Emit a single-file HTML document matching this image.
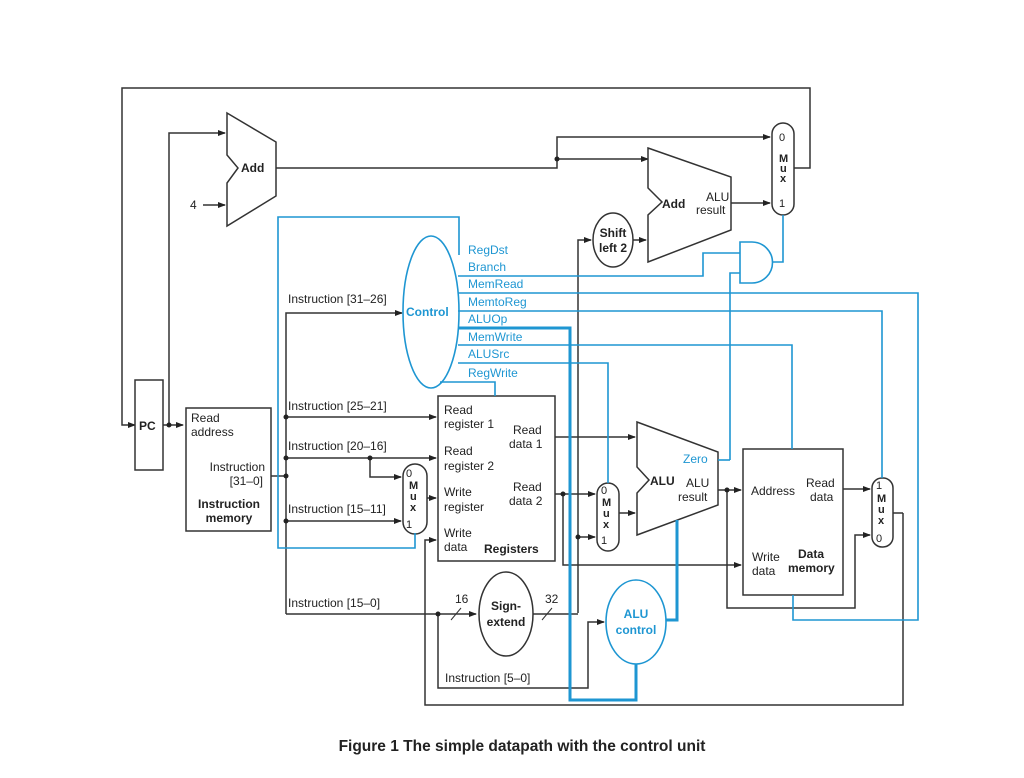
<!DOCTYPE html>
<html><head><meta charset="utf-8"><style>
body{margin:0;background:#fff;width:1024px;height:773px;overflow:hidden}
svg text{font-family:"Liberation Sans",Arial,sans-serif;font-size:12px;fill:#222}
.b{font-weight:bold}
.bl{fill:#1e96d2}
</style></head><body>
<svg width="1024" height="773" viewBox="0 0 1024 773" xmlns="http://www.w3.org/2000/svg">
<defs>
<marker id="a" markerWidth="8" markerHeight="6" refX="7" refY="3" orient="auto" markerUnits="userSpaceOnUse"><path d="M0,0 L8,3 L0,6z" fill="#222"/></marker>
</defs>
<g fill="none" stroke="#333" stroke-width="1.5">
<path d="M794,168 H810 V88 H122 V425 H135" marker-end="url(#a)"/>
<rect x="135" y="380" width="28" height="90" fill="#fff"/>
<path d="M163,425 H183" marker-end="url(#a)"/>
<path d="M169,425 V133 H225" marker-end="url(#a)"/>
<path d="M203,205 H225" marker-end="url(#a)"/>
<path d="M227,113 L276,142 L276,196 L227,226 L227,183 L238,168 L227,155 Z" fill="#fff"/>
<path d="M276,168 H557 V159 H648" marker-end="url(#a)"/>
<path d="M557,159 V137 H770" marker-end="url(#a)"/>
<path d="M648,148 L731,177 L731,230 L648,262 L648,215 L662,202 L648,188 Z" fill="#fff"/>
<path d="M731,203 H770" marker-end="url(#a)"/>
<rect x="772" y="123" width="22" height="92" rx="11" fill="#fff"/>
<ellipse cx="613" cy="240" rx="20" ry="27" fill="#fff"/>
<path d="M633,240 H646" marker-end="url(#a)"/>
<path d="M578,613 V240 H591" marker-end="url(#a)"/>
<rect x="186" y="408" width="85" height="123"/>
<path d="M271,476 H286"/>
<path d="M286,614 V313 H402" marker-end="url(#a)"/>
<path d="M286,417 H436" marker-end="url(#a)"/>
<path d="M286,458 H436" marker-end="url(#a)"/>
<path d="M370,458 V477 H401" marker-end="url(#a)"/>
<path d="M286,521 H401" marker-end="url(#a)"/>
<rect x="403" y="464" width="24" height="70" rx="12" fill="#fff"/>
<path d="M427,498 H436" marker-end="url(#a)"/>
<rect x="438" y="396" width="117" height="165"/>
<path d="M903,513 V705 H425 V540 H436" marker-end="url(#a)"/>
<path d="M286,614 H476" marker-end="url(#a)"/>
<path d="M438,614 V688 H588 V622 H604" marker-end="url(#a)"/>
<ellipse cx="506" cy="614" rx="27" ry="42" fill="#fff"/>
<path d="M533,614 H578"/>
<path d="M578,537 H595" marker-end="url(#a)"/>
<path d="M451,620 l10,-12 M542,620 l10,-12" stroke-width="1"/>
<path d="M555,437 H635" marker-end="url(#a)"/>
<path d="M555,494 H595" marker-end="url(#a)"/>
<path d="M563,494 V565 H741" marker-end="url(#a)"/>
<rect x="597" y="483" width="22" height="68" rx="11" fill="#fff"/>
<path d="M619,513 H635" marker-end="url(#a)"/>
<path d="M637,422 L718,452 L718,505 L637,535 L637,493 L649,480 L637,467 Z" fill="#fff"/>
<path d="M718,490 H741" marker-end="url(#a)"/>
<path d="M727,490 V608 H855 V535 H870" marker-end="url(#a)"/>
<rect x="743" y="449" width="100" height="146"/>
<path d="M843,489 H870" marker-end="url(#a)"/>
<rect x="872" y="478" width="21" height="69" rx="10" fill="#fff"/>
<path d="M893,513 H903"/>
</g>
<g fill="#222">
<circle cx="169" cy="425" r="2.5"/><circle cx="557" cy="159" r="2.5"/>
<circle cx="286" cy="417" r="2.5"/><circle cx="286" cy="458" r="2.5"/><circle cx="286" cy="476" r="2.5"/><circle cx="286" cy="521" r="2.5"/>
<circle cx="370" cy="458" r="2.5"/><circle cx="438" cy="614" r="2.5"/><circle cx="563" cy="494" r="2.5"/><circle cx="578" cy="537" r="2.5"/><circle cx="727" cy="490" r="2.5"/>
</g>
<g fill="none" stroke="#1e96d2" stroke-width="1.6">
<path d="M459,255 V217 H278 V548 H415 V533"/>
<ellipse cx="431" cy="312" rx="28" ry="76" fill="#fff"/>
<path d="M458,276 H703 V253 H740"/>
<path d="M730,460 V273 H740"/>
<path d="M740,242 H752 A20,20 0 0 1 752,283 H740 Z" fill="#fff"/>
<path d="M773,262 H783 V215"/>
<path d="M458,293 H918 V620 H793 V595"/>
<path d="M458,311 H882 V478"/>
<path d="M458,345 H792 V449"/>
<path d="M458,363 H608 V483"/>
<path d="M440,382 H495 V396"/>
<path d="M718,460 H730"/>
<path d="M458,328 H570 V700 H636 V664" stroke-width="3"/>
<path d="M677,520 V620 H666" stroke-width="3"/>
<ellipse cx="636" cy="622" rx="30" ry="42" fill="#fff"/>
</g>
<text x="241" y="172" class="b">Add</text>
<text x="190" y="209">4</text>
<text x="662" y="208" class="b">Add</text>
<text x="706" y="201">ALU</text>
<text x="696" y="214">result</text>
<text x="779" y="141" style="font-size:11px">0</text>
<text x="779" y="162" class="b" style="font-size:11px">M</text>
<text x="780" y="172" class="b" style="font-size:11px">u</text>
<text x="780" y="182" class="b" style="font-size:11px">x</text>
<text x="779" y="207" style="font-size:11px">1</text>
<text x="613" y="237" class="b" text-anchor="middle">Shift</text>
<text x="613" y="252" class="b" text-anchor="middle">left 2</text>
<text x="139" y="430" class="b">PC</text>
<text x="191" y="422">Read</text>
<text x="191" y="436">address</text>
<text x="265" y="471" text-anchor="end">Instruction</text>
<text x="263" y="485" text-anchor="end">[31–0]</text>
<text x="229" y="508" class="b" text-anchor="middle">Instruction</text>
<text x="229" y="522" class="b" text-anchor="middle">memory</text>
<text x="288" y="303">Instruction [31–26]</text>
<text x="288" y="410">Instruction [25–21]</text>
<text x="288" y="450">Instruction [20–16]</text>
<text x="288" y="513">Instruction [15–11]</text>
<text x="288" y="607">Instruction [15–0]</text>
<text x="445" y="682">Instruction [5–0]</text>
<text x="406" y="316" class="b bl">Control</text>
<text x="468" y="254" class="bl">RegDst</text><text x="468" y="271" class="bl">Branch</text>
<text x="468" y="288" class="bl">MemRead</text><text x="468" y="306" class="bl">MemtoReg</text>
<text x="468" y="323" class="bl">ALUOp</text><text x="468" y="341" class="bl">MemWrite</text>
<text x="468" y="358" class="bl">ALUSrc</text><text x="468" y="377" class="bl">RegWrite</text>
<text x="406" y="477" style="font-size:11px">0</text>
<text x="409" y="489" class="b" style="font-size:11px">M</text>
<text x="410" y="500" class="b" style="font-size:11px">u</text>
<text x="410" y="511" class="b" style="font-size:11px">x</text>
<text x="406" y="528" style="font-size:11px">1</text>
<text x="444" y="414">Read</text><text x="444" y="428">register 1</text>
<text x="444" y="455">Read</text><text x="444" y="470">register 2</text>
<text x="444" y="496">Write</text><text x="444" y="511">register</text>
<text x="444" y="537">Write</text><text x="444" y="551">data</text>
<text x="513" y="434">Read</text><text x="509" y="448">data 1</text>
<text x="513" y="491">Read</text><text x="509" y="505">data 2</text>
<text x="484" y="553" class="b">Registers</text>
<text x="455" y="603">16</text><text x="545" y="603">32</text>
<text x="506" y="610" class="b" text-anchor="middle">Sign-</text>
<text x="506" y="626" class="b" text-anchor="middle">extend</text>
<text x="601" y="494" style="font-size:11px">0</text>
<text x="602" y="506" class="b" style="font-size:11px">M</text>
<text x="603" y="517" class="b" style="font-size:11px">u</text>
<text x="603" y="528" class="b" style="font-size:11px">x</text>
<text x="601" y="544" style="font-size:11px">1</text>
<text x="683" y="463" class="bl">Zero</text>
<text x="650" y="485" class="b">ALU</text>
<text x="686" y="487">ALU</text><text x="678" y="501">result</text>
<text x="636" y="618" class="b bl" text-anchor="middle">ALU</text>
<text x="636" y="634" class="b bl" text-anchor="middle">control</text>
<text x="751" y="495">Address</text>
<text x="806" y="487">Read</text><text x="810" y="501">data</text>
<text x="752" y="561">Write</text><text x="752" y="575">data</text>
<text x="798" y="558" class="b">Data</text><text x="788" y="572" class="b">memory</text>
<text x="876" y="489" style="font-size:11px">1</text>
<text x="877" y="502" class="b" style="font-size:11px">M</text>
<text x="878" y="513" class="b" style="font-size:11px">u</text>
<text x="878" y="524" class="b" style="font-size:11px">x</text>
<text x="876" y="542" style="font-size:11px">0</text>
<text x="522" y="751" class="b" text-anchor="middle" style="font-size:15.5px">Figure 1 The simple datapath with the control unit</text>
</svg>
</body></html>
